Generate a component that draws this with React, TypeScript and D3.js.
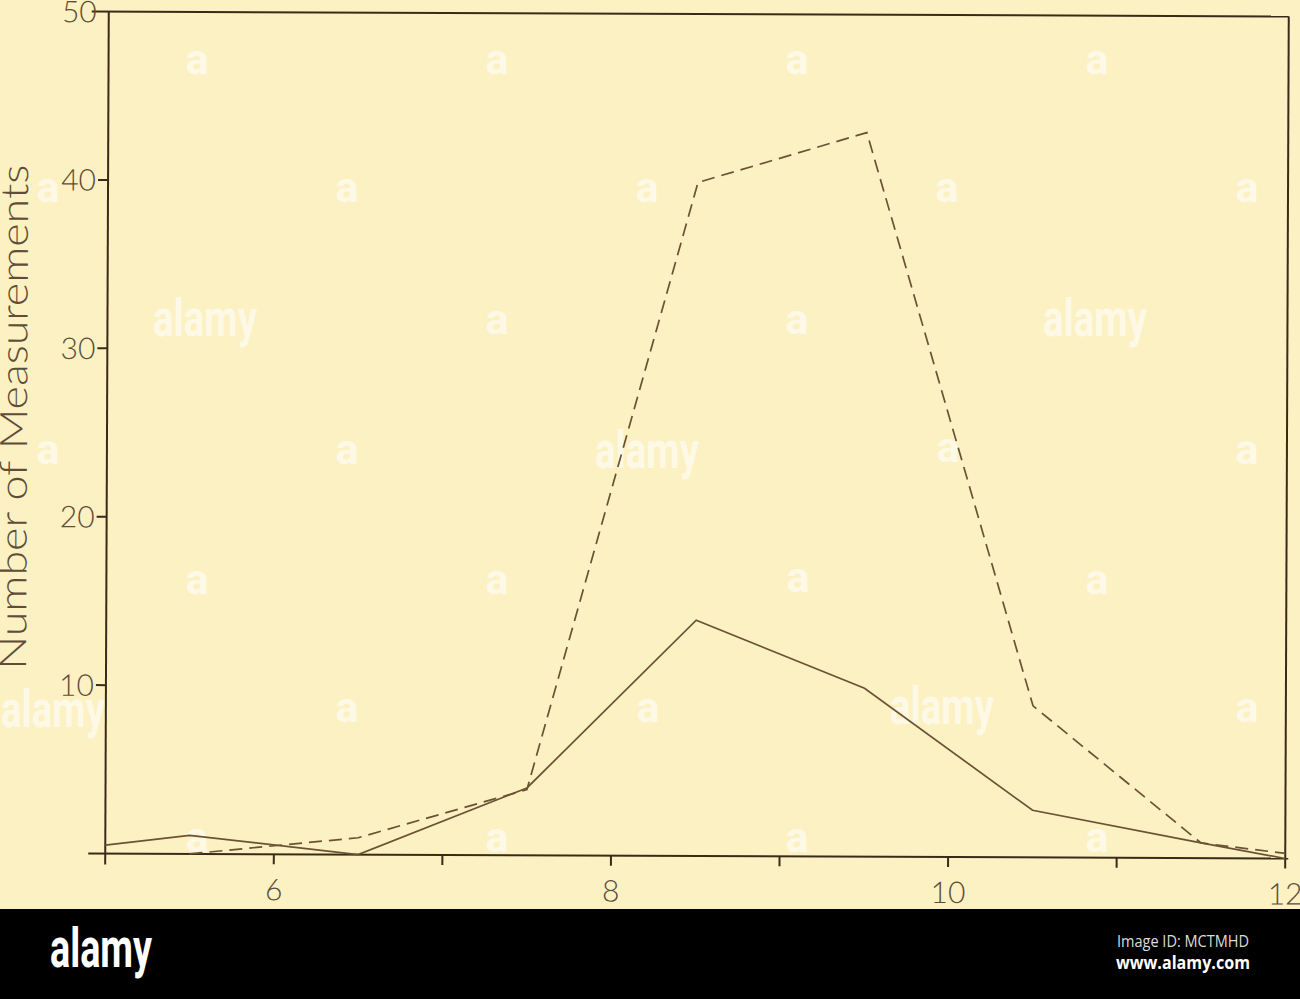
import React from "react";
import * as d3 from "d3";

// values
const SOLID_X = [5, 5.5, 6.5, 7.5, 8.5, 9.5, 10.5, 11.5, 12];
const SOLID_Y = [0.5, 1.1, 0, 4, 14, 10, 2.8, 0.9, 0];
const DASHED_X = [5.5, 6.5, 7.5, 8.5, 9.5, 10.5, 11.5, 12];
const DASHED_Y = [0, 1, 3.9, 40, 43, 9, 0.9, 0.3];

const X_LABELS = [6, 8, 10, 12];
const X_MINOR = [7, 9, 11];
const Y_TICKS = [10, 20, 30, 40];
const Y_LABELS = [10, 20, 30, 40, 50];

// stock-photo watermark marks
const WM_A: [number, number][] = [
  [197, 74], [497, 74], [797, 74], [1097, 74],
  [48, 202], [347, 202], [647, 202], [947, 202], [1247, 202],
  [497, 334], [797, 334],
  [48, 464], [347, 464], [948, 462], [1247, 464],
  [197, 594], [497, 594], [798, 592], [1097, 594],
  [347, 722], [648, 722], [1247, 722],
  [197, 852], [497, 852], [797, 852], [1097, 852],
];
const WM_ALAMY: [number, number][] = [
  [153, 336], [1043, 336], [595, 468], [1, 727], [890, 724],
];

const W = 1300;
const H = 999;
const ink = "#3a2a18";
const lineInk = "#6a5234";
const textInk = "#5e4d38";

export default function App() {
  const x = d3.scaleLinear().domain([5, 12]).range([107, 1287]);
  const y = d3.scaleLinear().domain([0, 50]).range([856, 14]);

  const line = d3
    .line<[number, number]>()
    .x((d) => x(d[0]))
    .y((d) => y(d[1]));

  const solid = SOLID_X.map((v, i) => [v, SOLID_Y[i]] as [number, number]);
  const dashed = DASHED_X.map((v, i) => [v, DASHED_Y[i]] as [number, number]);

  const x0 = x(5);
  const x1 = x(12);
  const yTop = y(50);
  const yBase = y(0);
  const cx = (x0 + x1) / 2;
  const cy = (yTop + yBase) / 2;

  const wmFont = "'Liberation Sans Narrow', 'Roboto', sans-serif";
  const thinFont = "Lato, 'Open Sans', 'DejaVu Sans', sans-serif";

  return (
    <svg
      width={W}
      height={H}
      style={{ position: "absolute", left: 0, top: 0, display: "block" }}
    >
      <rect x={0} y={0} width={W} height={H} fill="#fcf1c2" />

      {/* watermark */}
      <g fill="#ffffff" fillOpacity={0.62} fontFamily={wmFont} fontWeight={700}>
        {WM_A.map(([ax, ay], i) => (
          <text key={"a" + i} x={ax} y={ay} fontSize={43} textAnchor="middle">
            a
          </text>
        ))}
        {WM_ALAMY.map(([ax, ay], i) => (
          <text
            key={"al" + i}
            x={ax}
            y={ay}
            fontSize={52}
            textLength={104}
            lengthAdjust="spacingAndGlyphs"
          >
            alamy
          </text>
        ))}
      </g>

      <g transform={`rotate(0.24, ${cx}, ${cy})`}>
        {/* frame */}
        <g stroke={ink} strokeWidth={2} fill="none">
          <line x1={90} x2={x1 + 3} y1={yBase} y2={yBase} />
          <line x1={90} x2={x1} y1={yTop} y2={yTop} />
          <line x1={x0} x2={x0} y1={yTop} y2={yBase + 11} />
          <line x1={x1} x2={x1} y1={yTop} y2={yBase + 10} />
          {Y_TICKS.map((t) => (
            <line key={t} x1={x0 - 10} x2={x0} y1={y(t)} y2={y(t)} />
          ))}
          {[...X_LABELS.filter((t) => t < 12), ...X_MINOR].map((t) => (
            <line key={t} x1={x(t)} x2={x(t)} y1={yBase} y2={yBase + 10} />
          ))}
        </g>

        {/* series */}
        <path
          d={line(dashed) || ""}
          fill="none"
          stroke={lineInk}
          strokeWidth={1.7}
          strokeDasharray="13 7"
        />
        <path d={line(solid) || ""} fill="none" stroke={lineInk} strokeWidth={1.7} />

        {/* tick labels */}
        <g fill={textInk} fontFamily={thinFont} fontWeight={300} fontSize={30}>
          {Y_LABELS.map((t) => (
            <text key={t} x={x0 - 12} y={y(t)} dy="0.36em" textAnchor="end">
              {t}
            </text>
          ))}
          {X_LABELS.map((t) => (
            <text key={t} x={x(t)} y={902} textAnchor="middle">
              {t}
            </text>
          ))}
        </g>

        <text
          transform={`rotate(-90, 27, 420)`}
          x={27}
          y={420}
          textAnchor="middle"
          fill={textInk}
          fontFamily={thinFont}
          fontWeight={300}
          fontSize={38}
          textLength={505}
          lengthAdjust="spacingAndGlyphs"
        >
          Number of Measurements
        </text>
      </g>

      {/* stock-photo footer */}
      <rect x={0} y={909} width={W} height={H - 909} fill="#000" />
      <text
        x={50}
        y={967}
        fill="#fff"
        fontFamily={wmFont}
        fontWeight={700}
        fontSize={56}
        textLength={102}
        lengthAdjust="spacingAndGlyphs"
      >
        alamy
      </text>
      <text
        x={1117}
        y={947}
        fill="#dcdcdc"
        fontFamily="'Open Sans', 'DejaVu Sans', sans-serif"
        fontSize={16}
        textLength={132}
        lengthAdjust="spacingAndGlyphs"
      >
        Image ID: MCTMHD
      </text>
      <text
        x={1116}
        y={969}
        fill="#fff"
        fontFamily="'Open Sans', 'DejaVu Sans', sans-serif"
        fontWeight={700}
        fontSize={17}
        textLength={134}
        lengthAdjust="spacingAndGlyphs"
      >
        www.alamy.com
      </text>
    </svg>
  );
}
